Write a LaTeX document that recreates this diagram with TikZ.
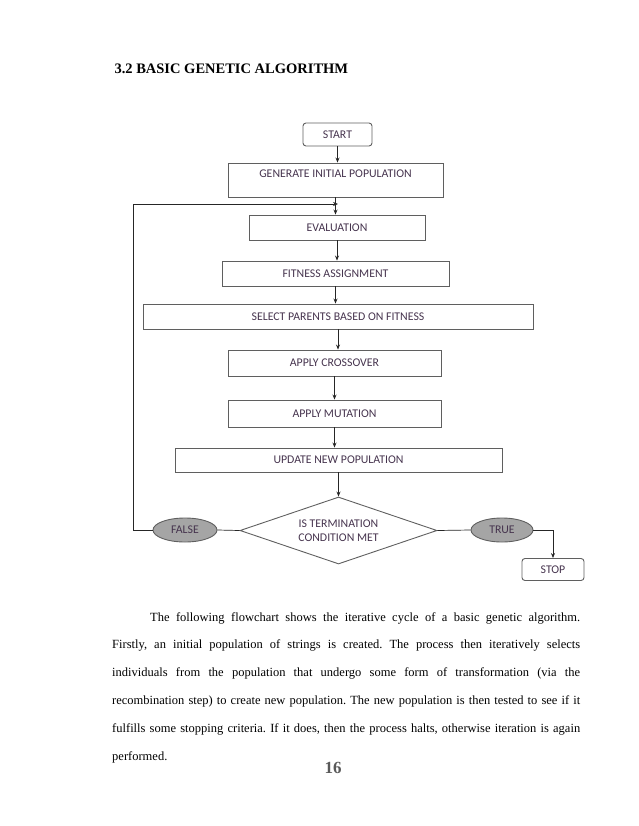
\documentclass[tikz,border=0pt]{standalone}
\usepackage{fontspec}
\setmainfont{Liberation Serif}
\newfontfamily\chartfont{Carlito}
\usepackage{tikz}
\usetikzlibrary{shapes.geometric,arrows.meta}

\definecolor{boxline}{RGB}{95,95,95}
\definecolor{boxtext}{RGB}{70,52,78}
\definecolor{ovalfill}{RGB}{165,165,165}

\tikzset{
  chartbox/.style={draw=boxline,line width=0.9pt,inner sep=0pt,text=boxtext,
    font=\chartfont\fontsize{11.8}{13.8}\selectfont},
  termbox/.style={chartbox,rounded corners=3pt},
  ovalbox/.style={chartbox,ellipse,fill=ovalfill},
  arr/.style={-{Stealth[length=5pt,width=4pt]},draw=black!85,line width=0.7pt}
}

\begin{document}
\begin{tikzpicture}[x=1pt,y=-1pt]
\useasboundingbox (0,0) rectangle (638,826);
\node[anchor=base west,font=\bfseries\fontsize{14.5}{16}\selectfont] (title) at (111,74) {3.2 BASIC GENETIC ALGORITHM};

% flowchart
\node[termbox,minimum width=69pt,minimum height=23pt] (start) at (337.5,134.5) {START};
\node[chartbox,minimum width=215pt,minimum height=34pt,text height=8pt,text depth=13pt] (gen) at (335.5,180) {GENERATE INITIAL POPULATION};
\foreach \name/\x/\y/\w/\h/\txt in {eval/337/227.5/176/25/EVALUATION,
    fit/335.5/273.5/227/25/FITNESS ASSIGNMENT,
    select/338/316.5/390/25/SELECT PARENTS BASED ON FITNESS,
    cross/334.5/363/213/26/APPLY CROSSOVER,
    mut/334.5/413.5/213/27/APPLY MUTATION,
    update/338.5/460/327/24/UPDATE NEW POPULATION}{
  \node[chartbox,minimum width=\w pt,minimum height=\h pt] (\name) at (\x,\y) {\txt};
}
\node[chartbox,diamond,aspect=2.94,minimum width=197pt,minimum height=67pt,align=center] (cond) at (338.5,530.5) {IS TERMINATION\\CONDITION MET};
\node[ovalbox,minimum width=64pt,minimum height=24pt] (false) at (185,530) {FALSE};
\node[ovalbox,minimum width=62pt,minimum height=24pt] (true) at (502,530) {TRUE};
\node[termbox,minimum width=62pt,minimum height=22pt] (stop) at (553,569.5) {STOP};

\coordinate (join) at (338,204);
\coordinate (loopcorner) at (133,204);

\foreach \a/\b in {start/gen,gen/eval,eval/fit,fit/select,select/cross,cross/mut,mut/update,update/cond}
  \draw[arr] (\a) -- (\a |- \b.north);
\draw[draw=black!85,line width=0.7pt] (cond.west) -- (false.east) (cond.east) -- (true.west);
\draw[arr] (false.west) -| (loopcorner) -- (join);
\draw[arr] (true.east) -| (stop.north);

% text below
\node[anchor=north west,text width=468pt,inner sep=0pt,align=justify,
  font=\fontsize{12.5}{27.8}\selectfont\frenchspacing] (para) at (112,612)
  {\hspace*{38pt}The following flowchart shows the iterative cycle of a basic genetic algorithm.\linebreak
   Firstly, an initial population of strings is created. The process then iteratively selects\linebreak
   individuals from the population that undergo some form of transformation (via the\linebreak
   recombination step) to create new population. The new population is then tested to see if it\linebreak
   fulfills some stopping criteria. If it does, then the process halts, otherwise iteration is again\linebreak
   performed.};
\node[font=\bfseries\fontsize{17}{20}\selectfont,text=black!65] (pagenum) at (333,768) {16};
\end{tikzpicture}
\end{document}
